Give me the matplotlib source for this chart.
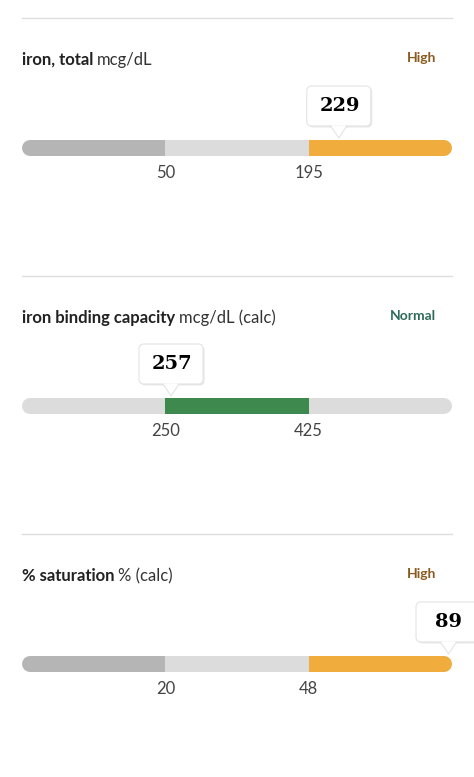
import numpy as np
import matplotlib
matplotlib.use("Agg")
import matplotlib.pyplot as plt
from matplotlib.patches import FancyBboxPatch, Polygon

titles_bold = ["iron, total", "iron binding capacity", "% saturation"]
titles_unit = ["mcg/dL", "mcg/dL (calc)", "% (calc)"]
statuses = ["High", "Normal", "High"]
values = [229, 257, 89]
low_refs = [50, 250, 20]
high_refs = [195, 425, 48]
scale_min = [0, 75, 0]
scale_max = [357, 600, 90]
seg_colors = [["#b5b5b5", "#dcdcdc", "#f0ac3c"],
              ["#dcdcdc", "#3e8a4e", "#dcdcdc"],
              ["#b5b5b5", "#dcdcdc", "#f0ac3c"]]
status_colors = {"High": "#8a5a1f", "Normal": "#2f6b5c"}

W, H = 474, 777
fig = plt.figure(figsize=(W/100, H/100), dpi=100)
ov = fig.add_axes([0, 0, 1, 1])
ov.set_xlim(0, W); ov.set_ylim(H, 0); ov.axis("off")
fam = ["Lato", "DejaVu Sans"]

for i in range(3):
    y0 = 18 + 258 * i
    ov.plot([22, 452], [y0, y0], color="#dedede", lw=1)
    t = ov.text(22, y0 + 42, titles_bold[i], fontsize=12, fontweight="bold", family=fam,
                color="#222222", va="center")
    fig.canvas.draw()
    bb = t.get_window_extent()
    ov.text(bb.x1 / fig.dpi * 100 + 4, y0 + 42, titles_unit[i], fontsize=12, family=fam,
            color="#333333", va="center")
    ov.text(436, y0 + 40, statuses[i], fontsize=10, fontweight="bold", family=fam,
            color=status_colors[statuses[i]], va="center", ha="right")

    ty = y0 + 130
    ax = fig.add_axes([22/W, 1 - (ty + 8)/H, 430/W, 16/H])
    ax.set_xlim(0, 3); ax.set_ylim(-1, 1); ax.axis("off")
    r = 8/430*3
    lw = 16 * 0.72
    c = seg_colors[i]
    ax.plot([r, 1], [0, 0], color=c[0], lw=lw, solid_capstyle="round")
    ax.plot([2, 3 - r], [0, 0], color=c[2], lw=lw, solid_capstyle="round")
    ax.plot([1, 2], [0, 0], color=c[1], lw=lw, solid_capstyle="butt")
    ax.plot([0, 1-r], [0, 0], color=c[0], lw=lw, solid_capstyle="butt", alpha=0) 
    for k, v in enumerate([low_refs[i], high_refs[i]]):
        ov.text(22 + 430*(k+1)/3, ty + 25, str(v), fontsize=12, family=fam,
                color="#444444", ha="center", va="center")
    u = np.interp(values[i], [scale_min[i], low_refs[i], high_refs[i], scale_max[i]], [0, 1, 2, 3])
    px = 22 + 430 * u / 3
    bx = min(px - 32, 416)
    for off, col in [(1.5, "#00000018"), (0, "white")]:
        ov.add_patch(FancyBboxPatch((bx + off, ty - 62 + off), 64, 40,
                                    boxstyle="round,pad=0,rounding_size=5",
                                    fc=col, ec="#e4e4e4" if off == 0 else "none", lw=0.8, zorder=5))
    ov.add_patch(Polygon([[px - 8, ty - 22.5], [px + 8, ty - 22.5], [px, ty - 10]],
                         closed=True, fc="white", ec="none", zorder=6))
    ov.plot([px - 8, px, px + 8], [ty - 22, ty - 10, ty - 22], color="#e4e4e4", lw=0.8, zorder=6)
    ov.text(bx + 33, ty - 42, str(values[i]), fontsize=14, fontweight="bold",
            family=["DejaVu Serif"], color="black", ha="center", va="center", zorder=7)

fig.savefig("out.png", dpi=100)
